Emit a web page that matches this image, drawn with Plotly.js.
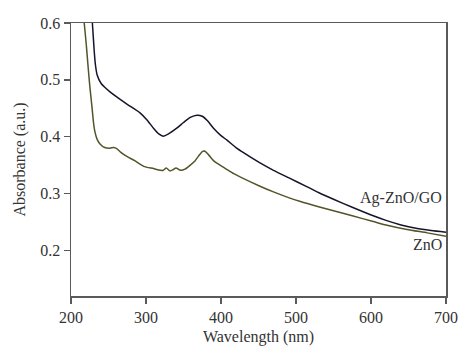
<!DOCTYPE html>
<html>
<head>
<meta charset="utf-8">
<script src="https://cdn.plot.ly/plotly-3.0.1.min.js"></script>
<style>html,body{margin:0;padding:0;background:#fff;}#chart{width:474px;height:363px;}</style>
</head>
<body>
<div id="chart"></div>
<script>
// Ag-ZnO/GO spectrum
var agWavelength = [228, 229, 231, 232.5, 235, 240, 245, 252, 260, 275, 292, 301, 310, 317, 323, 330, 341, 350, 359, 368, 375, 382, 390, 400, 408, 420, 430, 452, 470, 490, 515, 530, 550, 575, 603, 620, 640, 660, 680, 700];
var agAbsorbance = [0.61, 0.59, 0.55, 0.527, 0.508, 0.494, 0.487, 0.479, 0.471, 0.457, 0.442, 0.43, 0.415, 0.405, 0.401, 0.405, 0.415, 0.425, 0.434, 0.438, 0.436, 0.428, 0.415, 0.402, 0.394, 0.381, 0.372, 0.354, 0.341, 0.328, 0.312, 0.302, 0.29, 0.276, 0.261, 0.253, 0.245, 0.239, 0.235, 0.232];
// ZnO spectrum
var znoWavelength = [216, 218, 220.5, 223, 225, 228, 230, 232, 235, 239, 245, 252, 257, 261, 266, 275, 285, 297, 310, 319, 323, 327, 332, 336, 340, 346, 352, 359, 365, 370, 375, 378, 383, 390, 395, 405, 417, 426, 452, 470, 490, 506, 530, 550, 575, 603, 620, 648, 675, 700];
var znoAbsorbance = [0.62, 0.595, 0.56, 0.52, 0.49, 0.452, 0.425, 0.408, 0.395, 0.387, 0.381, 0.38, 0.381, 0.379, 0.373, 0.365, 0.358, 0.348, 0.344, 0.341, 0.341, 0.345, 0.34, 0.342, 0.345, 0.341, 0.343, 0.35, 0.357, 0.366, 0.374, 0.375, 0.369, 0.358, 0.353, 0.345, 0.335, 0.329, 0.313, 0.303, 0.293, 0.286, 0.277, 0.27, 0.261, 0.251, 0.245, 0.237, 0.231, 0.225];
var seriesLabels = ["Ag-ZnO/GO", "ZnO"];
var xTicks = [200, 300, 400, 500, 600, 700];
var yTicks = [0.2, 0.3, 0.4, 0.5, 0.6];

function serif() { return {family: "Liberation Serif", size: 16, color: "#333"}; }
var traces = [
  {x: agWavelength, y: agAbsorbance, mode: "lines", name: seriesLabels[0], line: {color: "#15152a", width: 1.5, shape: "spline", smoothing: 0.6}},
  {x: znoWavelength, y: znoAbsorbance, mode: "lines", name: seriesLabels[1], line: {color: "#54542a", width: 1.5, shape: "spline", smoothing: 0.6}}
];
function axis(extra) {
  return Object.assign({showline: true, linecolor: "#5a5a5a", linewidth: 1.5, mirror: true, ticks: "outside", ticklen: 6, tickwidth: 1.3, tickcolor: "#5a5a5a", showgrid: false, zeroline: false, tickfont: serif()}, extra);
}
var layout = {
  width: 474, height: 363,
  margin: {l: 71, r: 28, t: 23, b: 67},
  paper_bgcolor: "#fff", plot_bgcolor: "#fff",
  showlegend: false,
  font: serif(),
  xaxis: axis({range: [200, 700], tickvals: xTicks, ticktext: xTicks.map(String), title: {text: "Wavelength (nm)", font: serif(), standoff: 6}}),
  yaxis: axis({range: [0.12, 0.6], tickvals: yTicks, ticktext: yTicks.map(function(v){return v.toFixed(1);}), title: {text: "Absorbance (a.u.)", font: serif(), standoff: 10}}),
  annotations: [
    {x: 697, y: 0.292, xref: "x", yref: "y", text: seriesLabels[0], showarrow: false, xanchor: "right", yanchor: "middle", font: serif()},
    {x: 697, y: 0.211, xref: "x", yref: "y", text: seriesLabels[1], showarrow: false, xanchor: "right", yanchor: "middle", font: serif()}
  ]
};
Plotly.newPlot("chart", traces, layout, {displayModeBar: false, staticPlot: true});
</script>
</body>
</html>
